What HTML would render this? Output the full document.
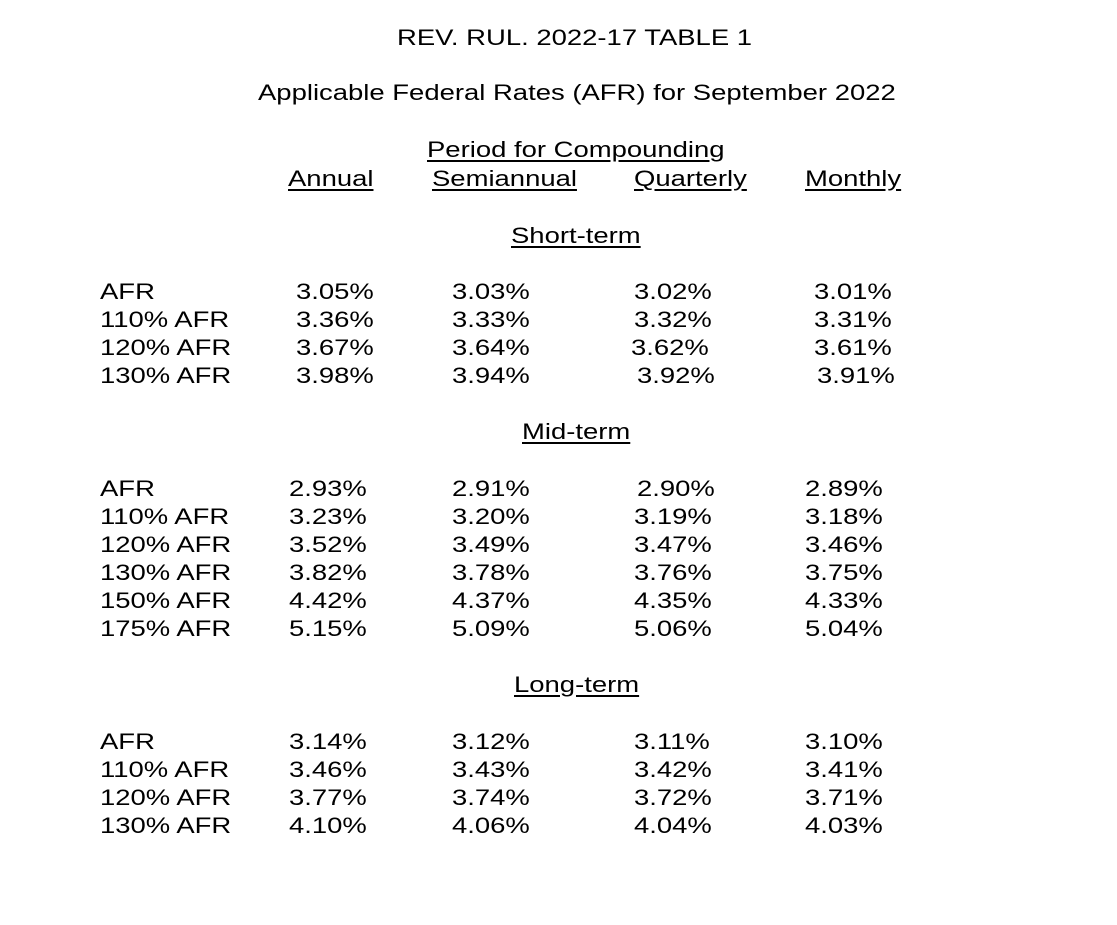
<!DOCTYPE html>
<html><head><meta charset="utf-8"><style>
body{margin:0;background:#fff;width:1117px;height:925px;position:relative;overflow:hidden;font-family:"Liberation Sans",Arial,sans-serif;font-size:22.5px;color:#000}
div{position:absolute;line-height:26px;white-space:nowrap;transform:scaleX(1.22);transform-origin:0 0}
.u{text-decoration:underline;text-underline-offset:3px}
</style></head><body>
<div style="left:397px;top:25px">REV. RUL. 2022-17 TABLE 1</div>
<div style="left:258px;top:80px">Applicable Federal Rates (AFR) for September 2022</div>
<div class="u" style="left:427px;top:137px">Period for Compounding</div>
<div class="u" style="left:288px;top:166px">Annual</div>
<div class="u" style="left:432px;top:166px">Semiannual</div>
<div class="u" style="left:634px;top:166px">Quarterly</div>
<div class="u" style="left:805px;top:166px">Monthly</div>
<div class="u" style="left:511px;top:223px">Short-term</div>
<div style="left:100px;top:279px">AFR</div><div style="left:296px;top:279px">3.05%</div><div style="left:452px;top:279px">3.03%</div><div style="left:634px;top:279px">3.02%</div><div style="left:814px;top:279px">3.01%</div>
<div style="left:100px;top:307px">110% AFR</div><div style="left:296px;top:307px">3.36%</div><div style="left:452px;top:307px">3.33%</div><div style="left:634px;top:307px">3.32%</div><div style="left:814px;top:307px">3.31%</div>
<div style="left:100px;top:335px">120% AFR</div><div style="left:296px;top:335px">3.67%</div><div style="left:452px;top:335px">3.64%</div><div style="left:631px;top:335px">3.62%</div><div style="left:814px;top:335px">3.61%</div>
<div style="left:100px;top:363px">130% AFR</div><div style="left:296px;top:363px">3.98%</div><div style="left:452px;top:363px">3.94%</div><div style="left:637px;top:363px">3.92%</div><div style="left:817px;top:363px">3.91%</div>
<div class="u" style="left:522px;top:419px">Mid-term</div>
<div style="left:100px;top:476px">AFR</div><div style="left:289px;top:476px">2.93%</div><div style="left:452px;top:476px">2.91%</div><div style="left:637px;top:476px">2.90%</div><div style="left:805px;top:476px">2.89%</div>
<div style="left:100px;top:504px">110% AFR</div><div style="left:289px;top:504px">3.23%</div><div style="left:452px;top:504px">3.20%</div><div style="left:634px;top:504px">3.19%</div><div style="left:805px;top:504px">3.18%</div>
<div style="left:100px;top:532px">120% AFR</div><div style="left:289px;top:532px">3.52%</div><div style="left:452px;top:532px">3.49%</div><div style="left:634px;top:532px">3.47%</div><div style="left:805px;top:532px">3.46%</div>
<div style="left:100px;top:560px">130% AFR</div><div style="left:289px;top:560px">3.82%</div><div style="left:452px;top:560px">3.78%</div><div style="left:634px;top:560px">3.76%</div><div style="left:805px;top:560px">3.75%</div>
<div style="left:100px;top:588px">150% AFR</div><div style="left:289px;top:588px">4.42%</div><div style="left:452px;top:588px">4.37%</div><div style="left:634px;top:588px">4.35%</div><div style="left:805px;top:588px">4.33%</div>
<div style="left:100px;top:616px">175% AFR</div><div style="left:289px;top:616px">5.15%</div><div style="left:452px;top:616px">5.09%</div><div style="left:634px;top:616px">5.06%</div><div style="left:805px;top:616px">5.04%</div>
<div class="u" style="left:514px;top:672px">Long-term</div>
<div style="left:100px;top:729px">AFR</div><div style="left:289px;top:729px">3.14%</div><div style="left:452px;top:729px">3.12%</div><div style="left:634px;top:729px">3.11%</div><div style="left:805px;top:729px">3.10%</div>
<div style="left:100px;top:757px">110% AFR</div><div style="left:289px;top:757px">3.46%</div><div style="left:452px;top:757px">3.43%</div><div style="left:634px;top:757px">3.42%</div><div style="left:805px;top:757px">3.41%</div>
<div style="left:100px;top:785px">120% AFR</div><div style="left:289px;top:785px">3.77%</div><div style="left:452px;top:785px">3.74%</div><div style="left:634px;top:785px">3.72%</div><div style="left:805px;top:785px">3.71%</div>
<div style="left:100px;top:813px">130% AFR</div><div style="left:289px;top:813px">4.10%</div><div style="left:452px;top:813px">4.06%</div><div style="left:634px;top:813px">4.04%</div><div style="left:805px;top:813px">4.03%</div>
</body></html>
